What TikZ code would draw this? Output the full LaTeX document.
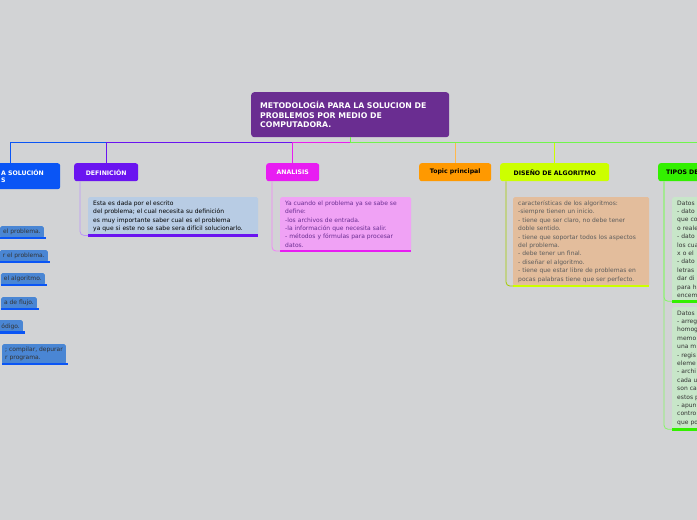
\documentclass[tikz,border=0pt]{standalone}
\usepackage{fontspec}
\setmainfont{DejaVu Sans}
\definecolor{bg}{HTML}{D2D3D5}
\definecolor{rootc}{HTML}{6A2D91}
\definecolor{blu}{HTML}{0A55F5}
\definecolor{defc}{HTML}{6A14F0}
\definecolor{anc}{HTML}{E81DF2}
\definecolor{topc}{HTML}{FF9900}
\definecolor{disc}{HTML}{CCFF00}
\definecolor{tipc}{HTML}{33F000}
\definecolor{defb}{HTML}{B8CCE4}
\definecolor{anb}{HTML}{F0A2F5}
\definecolor{disb}{HTML}{E3BD9C}
\definecolor{tipb}{HTML}{C8E6C9}
\definecolor{itemb}{HTML}{4A86D4}
\definecolor{txt}{HTML}{333333}
\tikzset{
 head/.style={rounded corners=2.5pt,inner sep=0pt,minimum height=18pt,font=\fontsize{6.2}{7.5}\selectfont\bfseries,anchor=north west,align=center},
 sub/.style={rounded corners=1.5pt,inner xsep=5pt,inner ysep=3.5pt,font=\fontsize{6}{8.4}\selectfont,text=txt,align=left,anchor=north west},
 item/.style={rounded corners=1.5pt,inner xsep=3pt,inner ysep=3pt,fill=itemb,font=\fontsize{6}{8}\selectfont,text=txt,align=left,anchor=north east},
 con/.style={line width=0.8pt},
 ul/.style={line width=2.6pt}
}
\begin{document}
\begin{tikzpicture}[x=1pt,y=-1pt]
\fill[bg] (0,0) rectangle (697,520);
\clip (0,0) rectangle (697,520);
\useasboundingbox (0,0) rectangle (697,520);
% root
\node[rounded corners=3pt,fill=rootc,text=white,font=\fontsize{7.8}{9.5}\selectfont\bfseries,align=left,anchor=north west,minimum width=194pt,minimum height=45pt,text width=180pt,inner xsep=9pt] (root) at (251,92) {METODOLOGÍA PARA LA SOLUCION DE\\PROBLEMOS POR MEDIO DE\\COMPUTADORA.};
% headers
\node[head,fill=blu,text=white,minimum width=100pt,minimum height=26pt,align=left,text width=94pt] (lft) at (-40,163) {\hspace*{38pt}A SOLUCIÓN\\\hspace*{38pt}S};
\node[head,fill=defc,text=white,minimum width=64pt] (def) at (74,163) {DEFINICIÓN};
\node[head,fill=anc,text=white,minimum width=53pt] (an) at (266,163) {ANALISIS};
\node[head,fill=topc,text=black,minimum width=72pt] (top) at (419,163) {Topic principal};
\node[head,fill=disc,text=black,minimum width=109pt] (dis) at (500,163) {DISEÑO DE ALGORITMO};
\node[head,fill=tipc,text=black,minimum width=90pt,align=left,inner xsep=8pt] (tip) at (658,163) {TIPOS DE DATOS\hspace*{20pt}};
% connectors from root
\draw[con,blu] (root.south) -- ++(0,5) -| (lft.north);
\draw[con,defc] (root.south) -- ++(0,5) -| (def.north);
\draw[con,anc] (root.south) -- ++(0,5) -| (an.north);
\draw[con,topc!70!white] (root.south) -- ++(0,5) -| (top.north);
\draw[con,disc] (root.south) -- ++(0,5) -| (dis.north);
\draw[con,tipc!70!white] (root.south) -- ++(0,5) -| (tip.north);
% sub boxes
\node[sub,fill=defb,text width=160pt,text=black] (defbox) at (88,197) {Esta es dada por el escrito\\del problema; el cual necesita su definición\\es muy importante saber cual es el problema\\ya que si este no se sabe sera difícil solucionarlo.};
\node[sub,fill=anb,text width=121pt,text=rootc] (anbox) at (280,197) {Ya cuando el problema ya se sabe se\\define:\\-los archivos de entrada.\\-la información que necesita salir.\\- métodos y fórmulas para procesar\\datos.};
\node[sub,fill=disb,text width=126pt,text=txt!80!white] (disbox) at (513,197) {características de los algoritmos:\\-siempre tienen un inicio.\\- tiene que ser claro, no debe tener\\doble sentido.\\- tiene que soportar todos los aspectos\\del problema.\\- debe tener un final.\\- diseñar el algoritmo.\\- tiene que estar libre de problemas en\\pocas palabras tiene que ser perfecto.};
\node[sub,fill=tipb,text width=80pt,minimum height=100pt] (tipa) at (672,197) {Datos\\- dato\\que co\\o reale\\- dato\\los cua\\x o el\\- dato\\letras\\dar di\\para h\\encem};
\node[sub,fill=tipb,text width=80pt,minimum height=118pt] (tipb2) at (672,307) {Datos\\- arreg\\homog\\memo\\una m\\- regis\\eleme\\- archi\\cada u\\son ca\\estos p\\- apun\\contro\\que po};
% underlines
\draw[ul,defc] (defbox.south west) -- (defbox.south east);
\draw[ul,anc] (anbox.south west) -- (anbox.south east);
\draw[ul,disc] (disbox.south west) -- (disbox.south east);
\draw[ul,tipc] (tipa.south west) -- (tipa.south east);
\draw[ul,tipc] (tipb2.south west) -- (tipb2.south east);
% sub connectors
\draw[con,defc!45!white,rounded corners=4pt] ([xshift=6pt]def.south west) |- (defbox.south west);
\draw[con,anc!55!white,rounded corners=4pt] ([xshift=6pt]an.south west) |- (anbox.south west);
\draw[con,disc!80!black,rounded corners=4pt] ([xshift=6pt]dis.south west) |- (disbox.south west);
\draw[con,tipc!60!white,rounded corners=4pt] ([xshift=6pt]tip.south west) |- (tipa.south west);
\draw[con,tipc!60!white,rounded corners=4pt] ([xshift=6pt]tip.south west) |- (tipb2.south west);
% left items
\node[item] (i1) at (44,226) {el problema.};
\node[item] (i2) at (48,250) {r el problema.};
\node[item] (i3) at (45,273) {el algoritmo.};
\node[item] (i4) at (37,297) {a de flujo.};
\node[item] (i5) at (23,320) {ódigo.};
\node[item] (i6) at (66,344) {; compilar, depurar\\r programa.};
\foreach \n in {i1,i2,i3,i4,i5,i6}{\draw[line width=2.2pt,blu] (\n.south west) -- ([xshift=2pt]\n.south east);}
\end{tikzpicture}
\end{document}
